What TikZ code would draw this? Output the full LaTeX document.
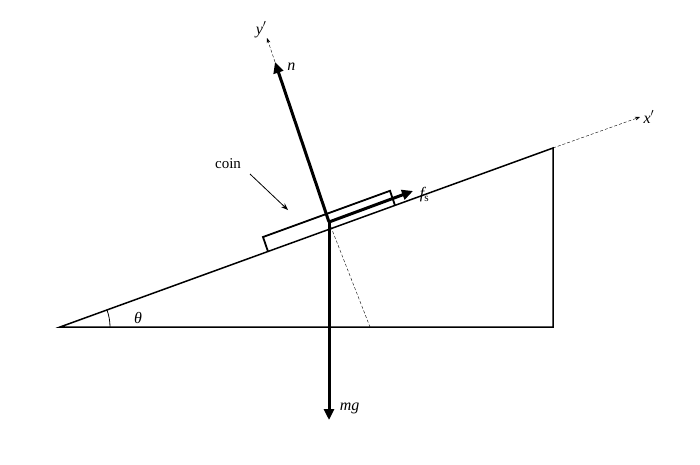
\documentclass[tikz,border=0pt]{standalone}
\usepackage{fontspec}
\setmainfont{Liberation Serif}
\usetikzlibrary{arrows.meta}
\begin{document}
\begin{tikzpicture}[x=1pt,y=-1pt,
 force/.style={line width=3pt,-{Triangle[length=11pt,width=10pt]}},
 axis/.style={densely dashed,thin,-{Stealth[length=5pt]}},
 lab/.style={font=\itshape\fontsize{16}{16}\selectfont}]
\useasboundingbox (0,0) rectangle (700,464);
\coordinate (A) at (60,327); \coordinate (B) at (553,327); \coordinate (C) at (553,148);
\draw[line width=1.5pt] (A) -- (B) -- (C) -- cycle;
\draw[line width=1.8pt] (268,251.5) -- (263,237) -- (390,190.8) -- (395,205.5);
\coordinate (O) at (329,222);
\coordinate (N) at (275,62);
\coordinate (G) at (329,420);
\coordinate (F) at (413,191);
\coordinate (P) at (370,327);
\draw[densely dashed,thin] (O) -- (P);
\draw[axis] (N) -- (267,38) node[lab,above left=-3pt] {y\/$'$};
\draw[axis] (C) -- (640,117) node[lab,right] {x$'$};
\draw[force] (O) -- (N) node[lab,right=6pt,pos=0.97] {n};
\draw[force] (O) -- (G) node[lab,right=6pt,pos=0.94] {mg};
\draw[force] (O) -- (F) node[lab,right=2pt,yshift=-4pt] {f\textsubscript{\upshape s}};
\node[font=\fontsize{15}{15}\selectfont] (coin) at (228,164) {coin};
\coordinate (ct) at (288,210);
\draw[line width=0.8pt,-{Stealth[length=7pt]}] (250,174) -- (ct);
\draw[line width=0.8pt] (110,327) arc[start angle=0,end angle=-20,radius=50];
\node[lab] (th) at (138,318) {θ};
\end{tikzpicture}
\end{document}
